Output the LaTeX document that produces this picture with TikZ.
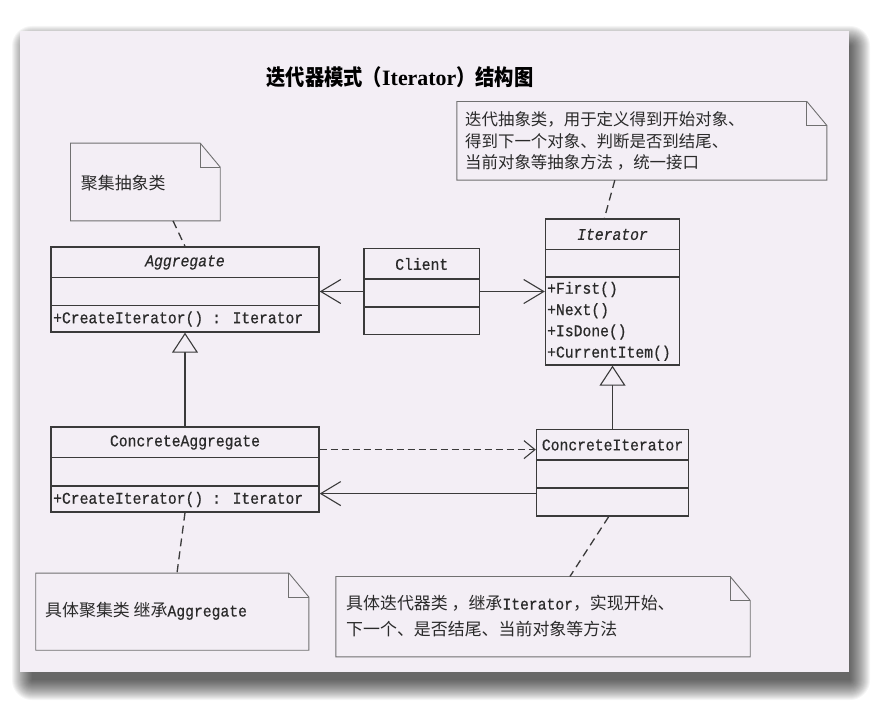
\documentclass[tikz,border=0pt]{standalone}
\usepackage{fontspec}
\setmainfont{Liberation Serif}
\newfontfamily\cjk{Noto Sans CJK SC}
\newfontfamily\cjktitle[FakeStretch=0.88]{Noto Sans CJK SC}
\newfontfamily\mono[FakeStretch=0.9,FakeBold=0.6]{Liberation Mono}
\usetikzlibrary{arrows.meta,calc}
\definecolor{pagebg}{HTML}{F3EEF5}
\definecolor{ink}{HTML}{3A3A3A}
\definecolor{noteink}{HTML}{707070}
\definecolor{txt}{HTML}{2A2A2A}
\tikzset{
  classbox/.style={draw=ink, line width=1.4bp, rectangle, inner sep=0pt},
  sepline/.style={draw=ink, line width=1.4bp},
  notebox/.style={rectangle, inner sep=0pt},
  noteline/.style={draw=noteink, line width=0.9bp, line join=miter},
  classname/.style={font=\mono\fontsize{16.4}{18}\selectfont, text=txt, inner sep=0pt},
  italicname/.style={font=\mono\itshape\fontsize{16.4}{18}\selectfont, text=txt, inner sep=0pt},
  member/.style={font=\mono\fontsize{16.4}{18}\selectfont, text=txt, inner sep=0pt, anchor=west},
  notetext/.style={font=\cjk\fontsize{17}{21.5}\selectfont, text=txt, inner sep=0pt, anchor=west, align=left},
  assoc/.style={draw=ink, line width=1.1bp, -{Straight Barb[length=20bp,width=24bp]}},
  depend/.style={draw=ink, line width=1.1bp, dash pattern=on 7bp off 4bp, -{Straight Barb[length=11bp,width=18bp]}},
  inherit/.style={draw=ink, line width=1.1bp, -{Triangle[open,length=20bp,width=26bp,fill=pagebg]}},
  notelink/.style={draw=ink, line width=1.3bp, dash pattern=on 8bp off 5bp},
  titletext/.style={font=\bfseries\fontsize{22}{24}\selectfont, text=black, inner sep=0pt}
}
\begin{document}
\begin{tikzpicture}[x=1bp,y=-1bp]
\useasboundingbox (0,0) rectangle (891,718);
\fill[white] (0,0) rectangle (891,718);
% shadow
\foreach \r in {0,1,...,20} {
  \fill[black, opacity=0.04, rounded corners=\r bp] (32-\r,46-\r) rectangle (850+\r,680+\r);
}
% page
\fill[pagebg] (20,31) rectangle (849,672);

% title
\node[titletext] (title) at (400,77) {{\cjktitle 迭代器模式（}Iterator{\cjktitle ）结构图}};

% notes
\node[notebox, minimum width=149.3bp, minimum height=77.4bp] (nTL) at (145.35,182) {};
\node[notebox, minimum width=369.7bp, minimum height=78.3bp] (nTR) at (641.85,140.85) {};
\node[notebox, minimum width=272.7bp, minimum height=76.7bp] (nBL) at (172.35,611.65) {};
\node[notebox, minimum width=414bp, minimum height=80bp] (nBR) at (543,616.7) {};
\foreach \n in {nTL,nTR,nBL,nBR} {
  \draw[noteline] (\n.north west) -- ($(\n.north east)+(-20,0)$) -- ($(\n.north east)+(0,24)$) -- (\n.south east) -- (\n.south west) -- cycle;
  \draw[noteline] ($(\n.north east)+(-20,0)$) -- ($(\n.north east)+(-20,24)$) -- ($(\n.north east)+(0,24)$);
}
\node[notetext] (tTL) at (80.7,183) {聚集抽象类};
\node[notetext, font=\cjk\fontsize{16.5}{21.5}\selectfont] (tTR) at (465,141) {迭代抽象类，用于定义得到开始对象、\\得到下一个对象、判断是否到结尾、\\当前对象等抽象方法 ，统一接口};
\node[notetext] (tBL) at (45,611) {具体聚集类 继承{\mono\fontsize{16.4}{18}\selectfont Aggregate}};
\node[notetext, font=\cjk\fontsize{17}{26}\selectfont] (tBR) at (346,616) {具体迭代器类 ，继承{\mono\fontsize{16.4}{18}\selectfont Iterator}，实现开始、\\下一个、是否结尾、当前对象等方法};

% classes
\node[classbox, minimum width=268bp, minimum height=85bp] (agg) at (185,289.5) {};
\draw[sepline] ($(agg.north west)+(0,31)$) -- ($(agg.north east)+(0,31)$);
\draw[sepline] ($(agg.north west)+(0,59)$) -- ($(agg.north east)+(0,59)$);
\node[italicname] (aggN) at (185,262.5) {Aggregate};
\node[member] (aggM) at (53,319) {+CreateIterator() : Iterator};

\node[classbox, minimum width=115.5bp, minimum height=86bp] (cli) at (421.75,291.5) {};
\draw[sepline] ($(cli.north west)+(0,31)$) -- ($(cli.north east)+(0,31)$);
\draw[sepline] ($(cli.north west)+(0,59)$) -- ($(cli.north east)+(0,59)$);
\node[classname] (cliN) at (421.75,264) {Client};

\node[classbox, minimum width=134bp, minimum height=146bp] (iter) at (612.5,292) {};
\draw[sepline] ($(iter.north west)+(0,31)$) -- ($(iter.north east)+(0,31)$);
\draw[sepline] ($(iter.north west)+(0,58.5)$) -- ($(iter.north east)+(0,58.5)$);
\node[italicname] (iterN) at (612.5,234.5) {Iterator};
\node[member] (iterM1) at (547,289.5) {+First()};
\node[member] (iterM2) at (547,310.8) {+Next()};
\node[member] (iterM3) at (547,332) {+IsDone()};
\node[member] (iterM4) at (547,353.3) {+CurrentItem()};

\node[classbox, minimum width=268bp, minimum height=85bp] (cagg) at (185,469.5) {};
\draw[sepline] ($(cagg.north west)+(0,31)$) -- ($(cagg.north east)+(0,31)$);
\draw[sepline] ($(cagg.north west)+(0,59.5)$) -- ($(cagg.north east)+(0,59.5)$);
\node[classname] (caggN) at (185,442.5) {ConcreteAggregate};
\node[member] (caggM) at (53,499.5) {+CreateIterator() : Iterator};

\node[classbox, minimum width=152bp, minimum height=86.5bp] (citer) at (612.5,472.75) {};
\draw[sepline] ($(citer.north west)+(0,31)$) -- ($(citer.north east)+(0,31)$);
\draw[sepline] ($(citer.north west)+(0,59)$) -- ($(citer.north east)+(0,59)$);
\node[classname] (citerN) at (612.5,445) {ConcreteIterator};

% connectors
\draw[assoc] (cli.west) -- (cli.west -| agg.east);
\draw[assoc] (cli.east) -- (cli.east -| iter.west);
\coordinate (d1) at ($(cagg.north east)!0.27!(cagg.south east)$);
\draw[depend] (d1) -- (d1 -| citer.west);
\coordinate (d2) at ($(citer.north west)!0.737!(citer.south west)$);
\draw[assoc] (d2) -- (d2 -| cagg.east);
\draw[inherit] (cagg.north) -- (agg.south);
\draw[inherit] (citer.north) -- (iter.south);
\draw[notelink] ($(nTL.south west)!0.685!(nTL.south east)$) -- (agg.north);
\draw[notelink] ($(nTR.south west)!0.427!(nTR.south east)$) -- ($(iter.north west)!0.44!(iter.north east)$);
\draw[notelink] (cagg.south) -- ($(nBL.north west)!0.517!(nBL.north east)$);
\draw[notelink] ($(citer.south west)!0.475!(citer.south east)$) -- ($(nBR.north west)!0.565!(nBR.north east)$);
\end{tikzpicture}
\end{document}
